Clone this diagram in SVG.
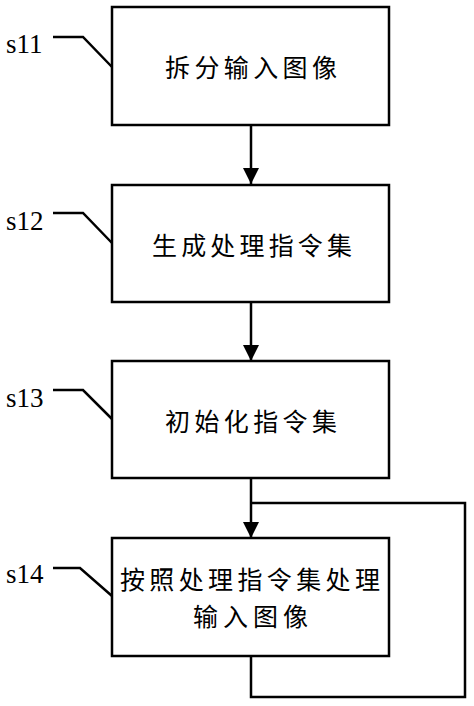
<svg xmlns="http://www.w3.org/2000/svg" width="474" height="706" viewBox="0 0 474 706">
<defs>
<style>
.box{fill:#fff;stroke:#000;stroke-width:2.5}
.ln{fill:none;stroke:#000;stroke-width:2.5}
.lbl{font-family:"Liberation Serif","Times New Roman",serif;font-size:27px;fill:#000}
.cn{font-family:"Noto Sans CJK SC","Noto Sans",sans-serif;font-size:25px;fill:#000;dominant-baseline:central}
</style>
<marker id="ah" markerWidth="16" markerHeight="16" viewBox="0 0 16 16" refX="16" refY="8" orient="auto" markerUnits="userSpaceOnUse">
<path d="M0,0 L16,8 L0,16 Z" fill="#000"/>
</marker>
</defs>
<g id="connectors">
<line class="ln" x1="251" y1="125" x2="251" y2="184" marker-end="url(#ah)"/>
<line class="ln" x1="251" y1="302" x2="251" y2="361" marker-end="url(#ah)"/>
<line class="ln" x1="251" y1="478" x2="251" y2="538" marker-end="url(#ah)"/>
<polyline class="ln" points="251,656 251,697 465,697 465,503 251,503"/>
</g>
<g id="s11">
<rect class="box" x="112" y="7" width="277" height="118"/>
<text class="cn" x="165" y="66" textLength="172" lengthAdjust="spacing">拆分输入图像</text>
<polyline class="ln" points="53,37 83,37 112,67"/>
<text class="lbl" x="6" y="53">s11</text>
</g>
<g id="s12">
<rect class="box" x="112" y="185" width="277" height="117"/>
<text class="cn" x="152" y="244" textLength="200" lengthAdjust="spacing">生成处理指令集</text>
<polyline class="ln" points="53,213 83,213 112,243"/>
<text class="lbl" x="6" y="230">s12</text>
</g>
<g id="s13">
<rect class="box" x="112" y="361" width="277" height="117"/>
<text class="cn" x="165" y="420" textLength="172" lengthAdjust="spacing">初始化指令集</text>
<polyline class="ln" points="53,390 83,390 112,419"/>
<text class="lbl" x="6" y="407">s13</text>
</g>
<g id="s14">
<rect class="box" x="112" y="538" width="277" height="118"/>
<text class="cn" x="120" y="578" textLength="260" lengthAdjust="spacing">按照处理指令集处理</text>
<text class="cn" x="193" y="615" textLength="115" lengthAdjust="spacing">输入图像</text>
<polyline class="ln" points="53,568 80,568 112,596"/>
<text class="lbl" x="6" y="583">s14</text>
</g>
</svg>
